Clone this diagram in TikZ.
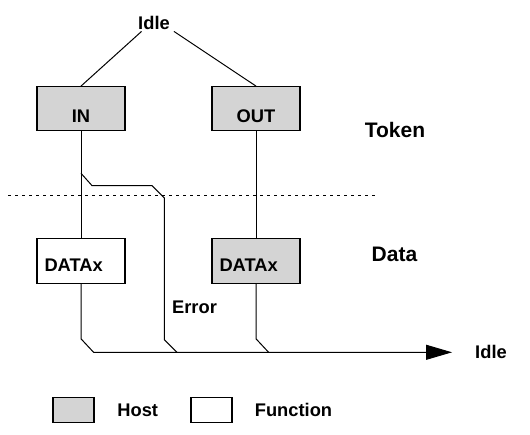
\documentclass[tikz,border=0pt]{standalone}
\usepackage{fontspec}
\setmainfont{Liberation Sans}
\usepackage{xcolor}
\usetikzlibrary{positioning,arrows.meta}
\definecolor{hostgray}{gray}{0.83}
\newcommand{\lbl}{\fontsize{18.3}{22}\selectfont\bfseries}
\newcommand{\lyr}{\fontsize{21}{24}\selectfont\bfseries}

\begin{document}
\begin{tikzpicture}[x=1pt,y=-1pt,on grid,font=\lbl,inner sep=2pt,
   box/.style={draw,line width=1.2pt,minimum width=88pt,minimum height=44pt,inner sep=0pt},
   host/.style={box,fill=hostgray},
   func/.style={box,fill=white},
   tag/.style={text height=28pt,text depth=0pt},
   dat/.style={minimum height=45pt,text height=21pt,text depth=0pt,inner xsep=7.5pt,text width=73pt,align=left},
   key/.style={draw,line width=1.2pt,minimum width=41pt,minimum height=25pt,inner sep=0pt},
   wire/.style={line width=1pt}]
   \useasboundingbox (0,0) rectangle (530,434);

   \node (idlet) at (154,22.5) {Idle};
   \node[host,tag] (in) at (81,108.7) {IN};
   \node[host,tag] (out) [right=175pt of in] {OUT};
   \node[func,dat] (datal) [below=152pt of in] {DATAx};
   \node[host,dat] (datar) [below=152pt of out] {DATAx};
   \node[font=\lyr] (token) at (395,129.5) {Token};
   \node[font=\lyr] (data) at (394.5,254) {Data};
   \node (err) at (194.5,307) {Error};
   \node (idler) at (491,351.7) {Idle};
   \coordinate (sepl) at (8,195);
   \coordinate (sepr) at (378,195);

   \draw[wire] ([xshift=5.5pt]idlet.south west) -- (in.north);
   \draw[wire] ([xshift=2pt]idlet.south east) -- (out.north);
   \draw[wire] (in.south) -- (datal.north);
   \draw[wire] (out.south) -- (datar.north);
   \draw[line width=0.8pt,dash pattern=on 3pt off 4pt] (sepl) -- (sepr);
   \draw[wire] (in.south) ++(0,42) -- ++(11,12.3) -- ++(60,0) -- ++(12.3,12.3)
        -- ++(0,141.7) -- ++(12.7,12.7);
   \draw[wire,shorten >=21pt,-{Triangle[length=26pt,width=15pt]}]
        (datal.south) -- ++(0,55) -- ++(12.6,13.5) coordinate (bus) -- (bus -| idler.west);
   \draw[wire] (datar.south) -- ++(0,55) -- ++(12.6,13.5);

   \node[key,fill=hostgray] (hostkey) at (73.5,410.2) {};
   \node (hosttxt) [right=64.2pt of hostkey] {Host};
   \node[key,fill=white] (funckey) [right=138pt of hostkey] {};
   \node (functxt) [right=82pt of funckey] {Function};
\end{tikzpicture}
\end{document}
